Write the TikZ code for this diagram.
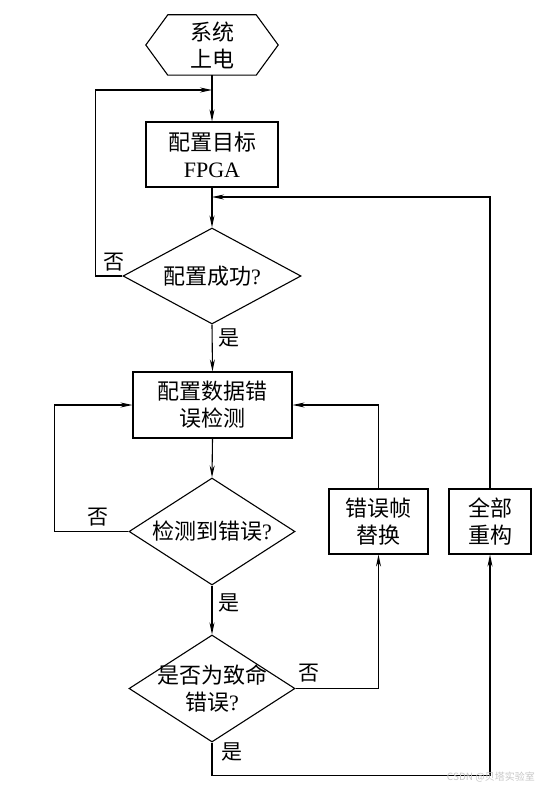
\documentclass[tikz,border=0pt]{standalone}
\usepackage{fontspec}
\setmainfont{Liberation Serif}
\newfontfamily\cjk{Noto Sans CJK SC}
\usetikzlibrary{shapes.geometric,arrows.meta}
\begin{document}
\begin{tikzpicture}[x=1pt,y=-1pt,
  every node/.style={font=\fontsize{22}{27}\selectfont, inner sep=0pt},
  box/.style={draw, line width=1.1pt, rectangle, align=center},
  dia/.style={draw, line width=1.1pt, diamond, inner sep=0pt},
  txt/.style={align=center},
  lbl/.style={font=\fontsize{21}{24}\selectfont\cjk},
  arr/.style={line width=1.1pt, -{Stealth[length=12pt,width=5pt]}},
  ln/.style={line width=1.1pt}]
\useasboundingbox (0,0) rectangle (537,789);
% start hexagon
\node[minimum width=132pt, minimum height=60pt, txt] (start) at (212,45) {{\cjk 系统}\\{\cjk 上电}};
\draw[ln] (start.west) -- ([xshift=22pt]start.north west) -- ([xshift=-22pt]start.north east)
  -- (start.east) -- ([xshift=-22pt]start.south east) -- ([xshift=22pt]start.south west) -- cycle;
% boxes
\node[box, minimum width=132pt, minimum height=65pt] (b1) at (212,154.5) {{\cjk 配置目标}\\FPGA};
\node[box, minimum width=159pt, minimum height=66pt] (b2) at (212.5,405) {{\cjk 配置数据错}\\{\cjk 误检测}};
\node[box, minimum width=99pt, minimum height=65pt] (b3) at (378.5,521.5) {{\cjk 错误帧}\\{\cjk 替换}};
\node[box, minimum width=82pt, minimum height=65pt] (b4) at (490,521.5) {{\cjk 全部}\\{\cjk 重构}};
% diamonds
\node[dia, minimum width=178pt, minimum height=96pt] (d1) at (212,276) {};
\node[txt] (t1) at (d1.center) {{\cjk 配置成功}?};
\node[dia, minimum width=166pt, minimum height=107pt] (d2) at (212,531.5) {};
\node[txt] (t2) at (d2.center) {{\cjk 检测到错误}?};
\node[dia, minimum width=166pt, minimum height=107pt] (d3) at (212,688.5) {};
\node[txt] (t3) at (d3.center) {{\cjk 是否为致命}\\{\cjk 错误}?};
% junction coordinates
\coordinate (j1) at (212,90);
\coordinate (j2) at (212,197);
% connectors
\draw[arr] (start.south) -- (b1.north);
\draw[arr] (d1.west) -- ++(-27,0) |- (j1);
\draw[arr] (b1.south) -- (d1.north);
\draw[arr] (b4.north) |- (j2);
\draw[arr] (d1.south) -- (b2.north);
\draw[arr] (b2.south) -- (d2.north);
\draw[arr] (d2.west) -- ++(-74,0) |- (b2.west);
\draw[arr] (b3.north) |- (b2.east);
\draw[arr] (d2.south) -- (d3.north);
\draw[arr] (d3.east) -| (b3.south);
\draw[arr] (d3.south) -- ++(0,33) -| (b4.south);
% labels
\node[lbl] (l1) at (114,262) {否};
\node[lbl] (l2) at (229,338) {是};
\node[lbl] (l3) at (98,517) {否};
\node[lbl] (l4) at (229,603) {是};
\node[lbl] (l5) at (309,673) {否};
\node[lbl] (l6) at (232,752) {是};
% watermark
\node[font=\fontsize{10}{12}\selectfont\cjk, text=gray!45, anchor=east] (wm) at (535,777) {CSDN @贝塔实验室};
\end{tikzpicture}
\end{document}
